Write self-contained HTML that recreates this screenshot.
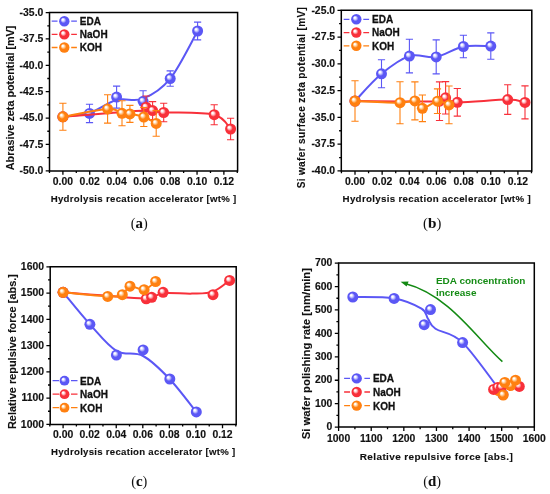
<!DOCTYPE html>
<html><head><meta charset="utf-8"><title>Figure</title>
<style>
html,body{margin:0;padding:0;background:#fff;}
svg{display:block;}
.t{font-family:'Liberation Sans', sans-serif;font-weight:bold;font-size:11.2px;fill:#111;stroke:#111;stroke-width:0.15px;}
.ti{font-family:'Liberation Sans', sans-serif;font-weight:bold;fill:#111;stroke:#111;stroke-width:0.1px;}
.lg{font-family:'Liberation Sans', sans-serif;font-weight:bold;font-size:10.9px;fill:#111;stroke:#111;stroke-width:0.3px;}
.sl{font-family:'Liberation Serif', serif;font-size:15.2px;fill:#111;stroke:#111;stroke-width:0.05px;}
.pp{font-size:14.6px;stroke-width:0;font-weight:normal;}
.gr{font-family:'Liberation Sans', sans-serif;font-weight:bold;font-size:9.1px;fill:#168c16;}
</style></head>
<body>
<svg width="550" height="494" viewBox="0 0 550 494">
<rect width="550" height="494" fill="#fff"/>
<defs><radialGradient id="gB" cx="0.5" cy="0.5" r="0.5" fx="0.33" fy="0.32"><stop offset="0" stop-color="#ffffff"/><stop offset="0.12" stop-color="#ffffff" stop-opacity="1"/><stop offset="0.3" stop-color="#c8c8ff"/><stop offset="0.55" stop-color="#5b57f5"/><stop offset="1" stop-color="#5b57f5"/></radialGradient><radialGradient id="gR" cx="0.5" cy="0.5" r="0.5" fx="0.33" fy="0.32"><stop offset="0" stop-color="#ffffff"/><stop offset="0.12" stop-color="#ffffff" stop-opacity="1"/><stop offset="0.3" stop-color="#ffc0c4"/><stop offset="0.55" stop-color="#f8303a"/><stop offset="1" stop-color="#f8303a"/></radialGradient><radialGradient id="gO" cx="0.5" cy="0.5" r="0.5" fx="0.33" fy="0.32"><stop offset="0" stop-color="#ffffff"/><stop offset="0.12" stop-color="#ffffff" stop-opacity="1"/><stop offset="0.3" stop-color="#ffd2a0"/><stop offset="0.55" stop-color="#ff8010"/><stop offset="1" stop-color="#ff8010"/></radialGradient></defs>
<path d="M62.9,116.8 C67.33,116.13 80.55,115.6 89.5,112.8 C98.45,110 107.68,102.37 116.6,100 C125.52,97.63 134.07,102.17 143,98.6 C151.93,95.03 161.1,89.87 170.2,78.6 C179.3,67.33 193.03,38.93 197.6,31" stroke="#5b57f5" stroke-width="2" fill="none"/>
<path d="M89.5,104.2V122.6M85.9,104.2H93.1M85.9,122.6H93.1" stroke="#5b57f5" stroke-width="1.1" fill="none"/>
<path d="M116.6,86.1V108.1M113,86.1H120.2M113,108.1H120.2" stroke="#5b57f5" stroke-width="1.1" fill="none"/>
<path d="M143.1,90.8V111.8M139.5,90.8H146.7M139.5,111.8H146.7" stroke="#5b57f5" stroke-width="1.1" fill="none"/>
<path d="M170.2,70.9V86.3M166.6,70.9H173.8M166.6,86.3H173.8" stroke="#5b57f5" stroke-width="1.1" fill="none"/>
<path d="M197.6,22.1V39.9M194,22.1H201.2M194,39.9H201.2" stroke="#5b57f5" stroke-width="1.1" fill="none"/>
<circle cx="62.9" cy="116.8" r="5.5" fill="url(#gB)"/>
<circle cx="89.5" cy="113.4" r="5.5" fill="url(#gB)"/>
<circle cx="116.6" cy="97.1" r="5.5" fill="url(#gB)"/>
<circle cx="143.1" cy="101.3" r="5.5" fill="url(#gB)"/>
<circle cx="170.2" cy="78.6" r="5.5" fill="url(#gB)"/>
<circle cx="197.6" cy="31" r="5.5" fill="url(#gB)"/>
<path d="M62.9,116.8 C69.75,116.27 90.15,114.63 104,113.6 C117.85,112.57 136,110.82 146,110.6 C156,110.38 152.63,111.62 164,112.3 C175.37,112.98 203.1,111.92 214.2,114.7 C225.3,117.48 227.87,126.62 230.6,129" stroke="#f8303a" stroke-width="2" fill="none"/>
<path d="M146.1,96V118.4M142.5,96H149.7M142.5,118.4H149.7" stroke="#f8303a" stroke-width="1.1" fill="none"/>
<path d="M152.6,101.6V119.6M149,101.6H156.2M149,119.6H156.2" stroke="#f8303a" stroke-width="1.1" fill="none"/>
<path d="M163.7,103.3V121.7M160.1,103.3H167.3M160.1,121.7H167.3" stroke="#f8303a" stroke-width="1.1" fill="none"/>
<path d="M214.2,104.7V124.7M210.6,104.7H217.8M210.6,124.7H217.8" stroke="#f8303a" stroke-width="1.1" fill="none"/>
<path d="M230.6,118.2V139.8M227,118.2H234.2M227,139.8H234.2" stroke="#f8303a" stroke-width="1.1" fill="none"/>
<circle cx="62.9" cy="116.8" r="5.5" fill="url(#gR)"/>
<circle cx="146.1" cy="107.2" r="5.5" fill="url(#gR)"/>
<circle cx="152.6" cy="110.6" r="5.5" fill="url(#gR)"/>
<circle cx="163.7" cy="112.5" r="5.5" fill="url(#gR)"/>
<circle cx="214.2" cy="114.7" r="5.5" fill="url(#gR)"/>
<circle cx="230.6" cy="129" r="5.5" fill="url(#gR)"/>
<path d="M62.9,116.8 C70.35,115.48 97.75,109.48 107.6,108.9 C117.45,108.32 118.28,112.47 122,113.3 C125.72,114.13 126.27,113.28 129.9,113.9 C133.53,114.52 139.42,115.42 143.8,117 C148.18,118.58 154.13,122.33 156.2,123.4" stroke="#ff8010" stroke-width="2" fill="none"/>
<path d="M62.9,103.3V130.3M59.3,103.3H66.5M59.3,130.3H66.5" stroke="#ff8010" stroke-width="1.1" fill="none"/>
<path d="M107.6,94.7V123.1M104,94.7H111.2M104,123.1H111.2" stroke="#ff8010" stroke-width="1.1" fill="none"/>
<path d="M122,100.8V125.8M118.4,100.8H125.6M118.4,125.8H125.6" stroke="#ff8010" stroke-width="1.1" fill="none"/>
<path d="M129.9,105.4V122.4M126.3,105.4H133.5M126.3,122.4H133.5" stroke="#ff8010" stroke-width="1.1" fill="none"/>
<path d="M143.8,107.5V126.5M140.2,107.5H147.4M140.2,126.5H147.4" stroke="#ff8010" stroke-width="1.1" fill="none"/>
<path d="M156.2,110.6V136.2M152.6,110.6H159.8M152.6,136.2H159.8" stroke="#ff8010" stroke-width="1.1" fill="none"/>
<circle cx="62.9" cy="116.8" r="5.5" fill="url(#gO)"/>
<circle cx="107.6" cy="108.9" r="5.5" fill="url(#gO)"/>
<circle cx="122" cy="113.3" r="5.5" fill="url(#gO)"/>
<circle cx="129.9" cy="113.9" r="5.5" fill="url(#gO)"/>
<circle cx="143.8" cy="117" r="5.5" fill="url(#gO)"/>
<circle cx="156.2" cy="123.4" r="5.5" fill="url(#gO)"/>
<path d="M49.5,12.6H237.6V170.9H49.5Z" stroke="#000" stroke-width="1.5" fill="none"/>
<path d="M45.7,12.6H49.5M45.7,38.97H49.5M45.7,65.34H49.5M45.7,91.71H49.5M45.7,118.08H49.5M45.7,144.45H49.5M45.7,170.82H49.5M47.3,25.79H49.5M47.3,52.16H49.5M47.3,78.52H49.5M47.3,104.89H49.5M47.3,131.27H49.5M47.3,157.63H49.5" stroke="#000" stroke-width="1.3"/>
<text transform="translate(43.3,15.8) scale(0.93,1)" text-anchor="end" class="t">-35.0</text>
<text transform="translate(43.3,42.17) scale(0.93,1)" text-anchor="end" class="t">-37.5</text>
<text transform="translate(43.3,68.54) scale(0.93,1)" text-anchor="end" class="t">-40.0</text>
<text transform="translate(43.3,94.91) scale(0.93,1)" text-anchor="end" class="t">-42.5</text>
<text transform="translate(43.3,121.28) scale(0.93,1)" text-anchor="end" class="t">-45.0</text>
<text transform="translate(43.3,147.65) scale(0.93,1)" text-anchor="end" class="t">-47.5</text>
<text transform="translate(43.3,174.02) scale(0.93,1)" text-anchor="end" class="t">-50.0</text>
<path d="M62.9,170.9V174.7M89.73,170.9V174.7M116.56,170.9V174.7M143.39,170.9V174.7M170.22,170.9V174.7M197.05,170.9V174.7M223.88,170.9V174.7M49.48,170.9V173.1M76.31,170.9V173.1M103.14,170.9V173.1M129.97,170.9V173.1M156.81,170.9V173.1M183.63,170.9V173.1M210.47,170.9V173.1M237.29,170.9V173.1" stroke="#000" stroke-width="1.3"/>
<text transform="translate(62.9,184.9) scale(0.93,1)" text-anchor="middle" class="t">0.00</text>
<text transform="translate(89.73,184.9) scale(0.93,1)" text-anchor="middle" class="t">0.02</text>
<text transform="translate(116.56,184.9) scale(0.93,1)" text-anchor="middle" class="t">0.04</text>
<text transform="translate(143.39,184.9) scale(0.93,1)" text-anchor="middle" class="t">0.06</text>
<text transform="translate(170.22,184.9) scale(0.93,1)" text-anchor="middle" class="t">0.08</text>
<text transform="translate(197.05,184.9) scale(0.93,1)" text-anchor="middle" class="t">0.10</text>
<text transform="translate(223.88,184.9) scale(0.93,1)" text-anchor="middle" class="t">0.12</text>
<path d="M51.7,21.2H57.5M71.2,21.2H76.9" stroke="#5b57f5" stroke-width="1.3"/>
<circle cx="64.3" cy="21.2" r="5.2" fill="url(#gB)"/>
<text transform="translate(79.8,25.1) scale(0.92,1)" class="lg">EDA</text>
<path d="M51.7,34.35H57.5M71.2,34.35H76.9" stroke="#f8303a" stroke-width="1.3"/>
<circle cx="64.3" cy="34.35" r="5.2" fill="url(#gR)"/>
<text transform="translate(79.8,38.25) scale(0.92,1)" class="lg">NaOH</text>
<path d="M51.7,47.5H57.5M71.2,47.5H76.9" stroke="#ff8010" stroke-width="1.3"/>
<circle cx="64.3" cy="47.5" r="5.2" fill="url(#gO)"/>
<text transform="translate(79.8,51.4) scale(0.92,1)" class="lg">KOH</text>
<text transform="translate(13.6,97.9) rotate(-90) scale(1.0,1)" text-anchor="middle" class="ti" style="font-size:10.8px;letter-spacing:0px">Abrasive zeta potential [mV]</text>
<text transform="translate(143.65,201.8) scale(1.06,1)" text-anchor="middle" class="ti" style="font-size:9.1px;letter-spacing:0.28585676631820434px">Hydrolysis recation accelerator [wt% ]</text>
<text transform="translate(139.2,228.3) scale(0.98,1)" text-anchor="middle" class="sl"><tspan class="pp">(</tspan><tspan font-weight="bold">a</tspan><tspan class="pp">)</tspan></text>
<path d="M355,101 C359.42,96.47 372.43,81.28 381.5,73.8 C390.57,66.32 400.28,58.92 409.4,56.1 C418.52,53.28 427.2,58.5 436.2,56.9 C445.2,55.3 454.3,48.3 463.4,46.5 C472.5,44.7 486.23,46.17 490.8,46.1" stroke="#5b57f5" stroke-width="2" fill="none"/>
<path d="M381.5,59.8V87.8M377.9,59.8H385.1M377.9,87.8H385.1" stroke="#5b57f5" stroke-width="1.1" fill="none"/>
<path d="M409.4,39.3V72.9M405.8,39.3H413M405.8,72.9H413" stroke="#5b57f5" stroke-width="1.1" fill="none"/>
<path d="M436.2,39.9V73.9M432.6,39.9H439.8M432.6,73.9H439.8" stroke="#5b57f5" stroke-width="1.1" fill="none"/>
<path d="M463.4,35.2V57.8M459.8,35.2H467M459.8,57.8H467" stroke="#5b57f5" stroke-width="1.1" fill="none"/>
<path d="M490.8,32.9V59.3M487.2,32.9H494.4M487.2,59.3H494.4" stroke="#5b57f5" stroke-width="1.1" fill="none"/>
<circle cx="355" cy="101" r="5.5" fill="url(#gB)"/>
<circle cx="381.5" cy="73.8" r="5.5" fill="url(#gB)"/>
<circle cx="409.4" cy="56.1" r="5.5" fill="url(#gB)"/>
<circle cx="436.2" cy="56.9" r="5.5" fill="url(#gB)"/>
<circle cx="463.4" cy="46.5" r="5.5" fill="url(#gB)"/>
<circle cx="490.8" cy="46.1" r="5.5" fill="url(#gB)"/>
<path d="M355,101 C369.08,101.03 424.4,101.73 439.5,101.2 C454.6,100.67 442.63,97.62 445.6,97.8 C448.57,97.98 446.95,102 457.3,102.3 C467.65,102.6 496.42,99.58 507.7,99.6 C518.98,99.62 522.12,101.93 525,102.4" stroke="#f8303a" stroke-width="2" fill="none"/>
<path d="M439.5,81.9V120.5M435.9,81.9H443.1M435.9,120.5H443.1" stroke="#f8303a" stroke-width="1.1" fill="none"/>
<path d="M445.6,81.6V114M442,81.6H449.2M442,114H449.2" stroke="#f8303a" stroke-width="1.1" fill="none"/>
<path d="M457.3,88.5V116.1M453.7,88.5H460.9M453.7,116.1H460.9" stroke="#f8303a" stroke-width="1.1" fill="none"/>
<path d="M507.7,84.8V114.4M504.1,84.8H511.3M504.1,114.4H511.3" stroke="#f8303a" stroke-width="1.1" fill="none"/>
<path d="M525,85.9V118.9M521.4,85.9H528.6M521.4,118.9H528.6" stroke="#f8303a" stroke-width="1.1" fill="none"/>
<circle cx="355" cy="101" r="5.5" fill="url(#gR)"/>
<circle cx="439.5" cy="101.2" r="5.5" fill="url(#gR)"/>
<circle cx="445.6" cy="97.8" r="5.5" fill="url(#gR)"/>
<circle cx="457.3" cy="102.3" r="5.5" fill="url(#gR)"/>
<circle cx="507.7" cy="99.6" r="5.5" fill="url(#gR)"/>
<circle cx="525" cy="102.4" r="5.5" fill="url(#gR)"/>
<path d="M355,101 C362.5,101.28 390.02,102.72 400,102.7 C409.98,102.68 411.17,99.97 414.9,100.9 C418.63,101.83 418.63,108.25 422.4,108.3 C426.17,108.35 433.07,101.77 437.5,101.2 C441.93,100.63 447.08,104.28 449,104.9" stroke="#ff8010" stroke-width="2" fill="none"/>
<path d="M355,80.8V121.2M351.4,80.8H358.6M351.4,121.2H358.6" stroke="#ff8010" stroke-width="1.1" fill="none"/>
<path d="M400,81.7V123.7M396.4,81.7H403.6M396.4,123.7H403.6" stroke="#ff8010" stroke-width="1.1" fill="none"/>
<path d="M414.9,81.9V119.9M411.3,81.9H418.5M411.3,119.9H418.5" stroke="#ff8010" stroke-width="1.1" fill="none"/>
<path d="M422.4,95V121.6M418.8,95H426M418.8,121.6H426" stroke="#ff8010" stroke-width="1.1" fill="none"/>
<path d="M437.5,88.9V113.5M433.9,88.9H441.1M433.9,113.5H441.1" stroke="#ff8010" stroke-width="1.1" fill="none"/>
<path d="M449,86V123.8M445.4,86H452.6M445.4,123.8H452.6" stroke="#ff8010" stroke-width="1.1" fill="none"/>
<circle cx="355" cy="101" r="5.5" fill="url(#gO)"/>
<circle cx="400" cy="102.7" r="5.5" fill="url(#gO)"/>
<circle cx="414.9" cy="100.9" r="5.5" fill="url(#gO)"/>
<circle cx="422.4" cy="108.3" r="5.5" fill="url(#gO)"/>
<circle cx="437.5" cy="101.2" r="5.5" fill="url(#gO)"/>
<circle cx="449" cy="104.9" r="5.5" fill="url(#gO)"/>
<path d="M341.3,10.3H531.8V171H341.3Z" stroke="#000" stroke-width="1.5" fill="none"/>
<path d="M337.5,10.3H341.3M337.5,37.07H341.3M337.5,63.84H341.3M337.5,90.61H341.3M337.5,117.38H341.3M337.5,144.15H341.3M337.5,170.92H341.3M339.1,23.69H341.3M339.1,50.45H341.3M339.1,77.22H341.3M339.1,104H341.3M339.1,130.77H341.3M339.1,157.54H341.3" stroke="#000" stroke-width="1.3"/>
<text transform="translate(335.1,13.5) scale(0.93,1)" text-anchor="end" class="t">-25.0</text>
<text transform="translate(335.1,40.27) scale(0.93,1)" text-anchor="end" class="t">-27.5</text>
<text transform="translate(335.1,67.04) scale(0.93,1)" text-anchor="end" class="t">-30.0</text>
<text transform="translate(335.1,93.81) scale(0.93,1)" text-anchor="end" class="t">-32.5</text>
<text transform="translate(335.1,120.58) scale(0.93,1)" text-anchor="end" class="t">-35.0</text>
<text transform="translate(335.1,147.35) scale(0.93,1)" text-anchor="end" class="t">-37.5</text>
<text transform="translate(335.1,174.12) scale(0.93,1)" text-anchor="end" class="t">-40.0</text>
<path d="M355,171V174.8M382.15,171V174.8M409.3,171V174.8M436.45,171V174.8M463.6,171V174.8M490.75,171V174.8M517.9,171V174.8M341.43,171V173.2M368.57,171V173.2M395.73,171V173.2M422.88,171V173.2M450.02,171V173.2M477.18,171V173.2M504.32,171V173.2M531.48,171V173.2" stroke="#000" stroke-width="1.3"/>
<text transform="translate(355,185) scale(0.93,1)" text-anchor="middle" class="t">0.00</text>
<text transform="translate(382.15,185) scale(0.93,1)" text-anchor="middle" class="t">0.02</text>
<text transform="translate(409.3,185) scale(0.93,1)" text-anchor="middle" class="t">0.04</text>
<text transform="translate(436.45,185) scale(0.93,1)" text-anchor="middle" class="t">0.06</text>
<text transform="translate(463.6,185) scale(0.93,1)" text-anchor="middle" class="t">0.08</text>
<text transform="translate(490.75,185) scale(0.93,1)" text-anchor="middle" class="t">0.10</text>
<text transform="translate(517.9,185) scale(0.93,1)" text-anchor="middle" class="t">0.12</text>
<path d="M343.7,19.3H349.4M363.3,19.3H369.1" stroke="#5b57f5" stroke-width="1.3"/>
<circle cx="356.3" cy="19.3" r="5.2" fill="url(#gB)"/>
<text transform="translate(372,23.2) scale(0.92,1)" class="lg">EDA</text>
<path d="M343.7,32.55H349.4M363.3,32.55H369.1" stroke="#f8303a" stroke-width="1.3"/>
<circle cx="356.3" cy="32.55" r="5.2" fill="url(#gR)"/>
<text transform="translate(372,36.45) scale(0.92,1)" class="lg">NaOH</text>
<path d="M343.7,45.8H349.4M363.3,45.8H369.1" stroke="#ff8010" stroke-width="1.3"/>
<circle cx="356.3" cy="45.8" r="5.2" fill="url(#gO)"/>
<text transform="translate(372,49.7) scale(0.92,1)" class="lg">KOH</text>
<text transform="translate(305.3,97.6) rotate(-90) scale(0.93,1)" text-anchor="middle" class="ti" style="font-size:10.8px;letter-spacing:0.38px">Si wafer surface zeta potential [mV]</text>
<text transform="translate(436.76,202) scale(1.07,1)" text-anchor="middle" class="ti" style="font-size:9.1px;letter-spacing:0.30400764950113596px">Hydrolysis recation accelerator [wt% ]</text>
<text transform="translate(432.2,228.3) scale(1.0,1)" text-anchor="middle" class="sl"><tspan class="pp">(</tspan><tspan font-weight="bold">b</tspan><tspan class="pp">)</tspan></text>
<path d="M63.1,292.3 C67.57,297.63 81.02,314.55 89.9,324.3 C98.78,334.05 107.53,345.52 116.4,350.8 C125.27,356.08 134.2,351.27 143.1,356 C152,360.73 160.93,369.88 169.8,379.2 C178.67,388.52 191.88,406.45 196.3,411.9" stroke="#5b57f5" stroke-width="2" fill="none"/>
<circle cx="63.1" cy="292.3" r="5.5" fill="url(#gB)"/>
<circle cx="89.9" cy="324.3" r="5.5" fill="url(#gB)"/>
<circle cx="116.4" cy="355.1" r="5.5" fill="url(#gB)"/>
<circle cx="143.1" cy="349.9" r="5.5" fill="url(#gB)"/>
<circle cx="169.8" cy="379" r="5.5" fill="url(#gB)"/>
<circle cx="196.3" cy="411.9" r="5.5" fill="url(#gB)"/>
<path d="M63.1,292.3 C70.08,292.85 91.15,294.58 105,295.6 C118.85,296.62 136.52,298.8 146.2,298.4 C155.88,298 155.47,294 163.1,293.2 C170.73,292.4 183.68,293.87 192,293.6 C200.32,293.33 206.73,293.8 213,291.6 C219.27,289.4 226.83,282.27 229.6,280.4" stroke="#f8303a" stroke-width="2" fill="none"/>
<circle cx="63.1" cy="292.3" r="5.5" fill="url(#gR)"/>
<circle cx="146.2" cy="298.8" r="5.5" fill="url(#gR)"/>
<circle cx="151.7" cy="297.3" r="5.5" fill="url(#gR)"/>
<circle cx="163.1" cy="292.3" r="5.5" fill="url(#gR)"/>
<circle cx="213" cy="294.7" r="5.5" fill="url(#gR)"/>
<circle cx="229.6" cy="280.4" r="5.5" fill="url(#gR)"/>
<path d="M63.1,292.3 C70.53,292.98 97.83,296 107.7,296.4 C117.57,296.8 118.58,296.4 122.3,294.7 C126.02,293 126.37,287.03 130,286.2 C133.63,285.37 139.83,290.48 144.1,289.7 C148.37,288.92 153.68,282.87 155.6,281.5" stroke="#ff8010" stroke-width="2" fill="none"/>
<circle cx="63.1" cy="292.3" r="5.5" fill="url(#gO)"/>
<circle cx="107.7" cy="296.4" r="5.5" fill="url(#gO)"/>
<circle cx="122.3" cy="294.7" r="5.5" fill="url(#gO)"/>
<circle cx="130" cy="286.2" r="5.5" fill="url(#gO)"/>
<circle cx="144.1" cy="289.7" r="5.5" fill="url(#gO)"/>
<circle cx="155.6" cy="281.5" r="5.5" fill="url(#gO)"/>
<path d="M50.2,266.8H236.2V424.4H50.2Z" stroke="#000" stroke-width="1.5" fill="none"/>
<path d="M46.4,266.8H50.2M46.4,293.07H50.2M46.4,319.33H50.2M46.4,345.6H50.2M46.4,371.87H50.2M46.4,398.13H50.2M46.4,424.4H50.2M48,279.93H50.2M48,306.2H50.2M48,332.47H50.2M48,358.73H50.2M48,385H50.2M48,411.27H50.2" stroke="#000" stroke-width="1.3"/>
<text transform="translate(44,270) scale(0.93,1)" text-anchor="end" class="t">1600</text>
<text transform="translate(44,296.27) scale(0.93,1)" text-anchor="end" class="t">1500</text>
<text transform="translate(44,322.53) scale(0.93,1)" text-anchor="end" class="t">1400</text>
<text transform="translate(44,348.8) scale(0.93,1)" text-anchor="end" class="t">1300</text>
<text transform="translate(44,375.07) scale(0.93,1)" text-anchor="end" class="t">1200</text>
<text transform="translate(44,401.33) scale(0.93,1)" text-anchor="end" class="t">1100</text>
<text transform="translate(44,427.6) scale(0.93,1)" text-anchor="end" class="t">1000</text>
<path d="M63.1,424.4V428.2M89.67,424.4V428.2M116.24,424.4V428.2M142.81,424.4V428.2M169.38,424.4V428.2M195.95,424.4V428.2M222.52,424.4V428.2M49.81,424.4V426.6M76.39,424.4V426.6M102.96,424.4V426.6M129.52,424.4V426.6M156.1,424.4V426.6M182.66,424.4V426.6M209.23,424.4V426.6M235.81,424.4V426.6" stroke="#000" stroke-width="1.3"/>
<text transform="translate(63.1,438.4) scale(0.93,1)" text-anchor="middle" class="t">0.00</text>
<text transform="translate(89.67,438.4) scale(0.93,1)" text-anchor="middle" class="t">0.02</text>
<text transform="translate(116.24,438.4) scale(0.93,1)" text-anchor="middle" class="t">0.04</text>
<text transform="translate(142.81,438.4) scale(0.93,1)" text-anchor="middle" class="t">0.06</text>
<text transform="translate(169.38,438.4) scale(0.93,1)" text-anchor="middle" class="t">0.08</text>
<text transform="translate(195.95,438.4) scale(0.93,1)" text-anchor="middle" class="t">0.10</text>
<text transform="translate(222.52,438.4) scale(0.93,1)" text-anchor="middle" class="t">0.12</text>
<path d="M52.6,380.7H59M71,380.7H77.5" stroke="#5b57f5" stroke-width="1.3"/>
<circle cx="64.5" cy="380.7" r="4.9" fill="url(#gB)"/>
<text transform="translate(80.1,384.6) scale(0.92,1)" class="lg">EDA</text>
<path d="M52.6,394.2H59M71,394.2H77.5" stroke="#f8303a" stroke-width="1.3"/>
<circle cx="64.5" cy="394.2" r="4.9" fill="url(#gR)"/>
<text transform="translate(80.1,398.1) scale(0.92,1)" class="lg">NaOH</text>
<path d="M52.6,407.7H59M71,407.7H77.5" stroke="#ff8010" stroke-width="1.3"/>
<circle cx="64.5" cy="407.7" r="4.9" fill="url(#gO)"/>
<text transform="translate(80.1,411.6) scale(0.92,1)" class="lg">KOH</text>
<text transform="translate(15.5,351.6) rotate(-90) scale(1.0,1)" text-anchor="middle" class="ti" style="font-size:10.95px;letter-spacing:0px">Relative repulsive  force [abs.]</text>
<text transform="translate(143.23,454.7) scale(1.03,1)" text-anchor="middle" class="ti" style="font-size:9.35px;letter-spacing:0.2578139522107054px">Hydrolysis recation accelerator [wt% ]</text>
<text transform="translate(139.2,486) scale(0.98,1)" text-anchor="middle" class="sl"><tspan class="pp">(</tspan><tspan font-weight="bold">c</tspan><tspan class="pp">)</tspan></text>
<path d="M352.8,297 C359.68,297.23 382.65,296.47 394.1,298.4 C405.55,300.33 415.85,305.2 421.5,308.6 C427.15,312 425.67,315.43 428,318.8 C430.33,322.17 429.73,324.83 435.5,328.8 C441.27,332.77 451.37,331.65 462.6,342.6 C473.83,353.55 496.18,385.85 502.9,394.5" stroke="#5b57f5" stroke-width="2" fill="none"/>
<circle cx="352.8" cy="297" r="5.5" fill="url(#gB)"/>
<circle cx="394.1" cy="298.4" r="5.5" fill="url(#gB)"/>
<circle cx="430.5" cy="309.6" r="5.5" fill="url(#gB)"/>
<circle cx="424.2" cy="324.7" r="5.5" fill="url(#gB)"/>
<circle cx="462.6" cy="342.6" r="5.5" fill="url(#gB)"/>
<circle cx="502.9" cy="394.5" r="5.5" fill="url(#gB)"/>
<circle cx="498.5" cy="390.5" r="5.5" fill="url(#gO)"/>
<circle cx="500" cy="388.8" r="5.5" fill="url(#gO)"/>
<circle cx="493.6" cy="389.4" r="5.5" fill="url(#gR)"/>
<circle cx="497.8" cy="387.4" r="5.5" fill="url(#gR)"/>
<circle cx="501.5" cy="387.2" r="5.5" fill="url(#gR)"/>
<circle cx="519.3" cy="386.4" r="5.5" fill="url(#gR)"/>
<circle cx="503.2" cy="395" r="5.5" fill="url(#gO)"/>
<circle cx="510.5" cy="385.5" r="5.5" fill="url(#gO)"/>
<circle cx="504.8" cy="382.4" r="5.5" fill="url(#gO)"/>
<circle cx="515.5" cy="380.2" r="5.5" fill="url(#gO)"/>
<path d="M502.4,361.6 C477.4,339.6 449.3,294.8 405,283.5" stroke="#138a13" stroke-width="1.5" fill="none"/>
<path d="M400.6,281.8 L408.6,281.5 L406.6,286.4 Z" fill="#138a13"/>
<text transform="translate(435.9,284.3) scale(1.1,1)" class="gr">EDA concentration</text>
<text transform="translate(435.9,295.6) scale(1.1,1)" class="gr">increase</text>
<path d="M338.6,263.1H534.3V427.1H338.6Z" stroke="#000" stroke-width="1.5" fill="none"/>
<path d="M334.8,263.1H338.6M334.8,286.53H338.6M334.8,309.96H338.6M334.8,333.39H338.6M334.8,356.81H338.6M334.8,380.24H338.6M334.8,403.67H338.6M334.8,427.1H338.6M336.4,274.81H338.6M336.4,298.24H338.6M336.4,321.67H338.6M336.4,345.1H338.6M336.4,368.53H338.6M336.4,391.96H338.6M336.4,415.39H338.6" stroke="#000" stroke-width="1.3"/>
<text transform="translate(332.4,266.3) scale(0.93,1)" text-anchor="end" class="t">700</text>
<text transform="translate(332.4,289.73) scale(0.93,1)" text-anchor="end" class="t">600</text>
<text transform="translate(332.4,313.16) scale(0.93,1)" text-anchor="end" class="t">500</text>
<text transform="translate(332.4,336.59) scale(0.93,1)" text-anchor="end" class="t">400</text>
<text transform="translate(332.4,360.01) scale(0.93,1)" text-anchor="end" class="t">300</text>
<text transform="translate(332.4,383.44) scale(0.93,1)" text-anchor="end" class="t">200</text>
<text transform="translate(332.4,406.87) scale(0.93,1)" text-anchor="end" class="t">100</text>
<text transform="translate(332.4,430.3) scale(0.93,1)" text-anchor="end" class="t">0</text>
<path d="M338.6,427.1V430.9M371.22,427.1V430.9M403.83,427.1V430.9M436.45,427.1V430.9M469.07,427.1V430.9M501.68,427.1V430.9M534.3,427.1V430.9M354.91,427.1V429.3M387.52,427.1V429.3M420.14,427.1V429.3M452.76,427.1V429.3M485.38,427.1V429.3M517.99,427.1V429.3" stroke="#000" stroke-width="1.3"/>
<text transform="translate(338.6,441.7) scale(0.93,1)" text-anchor="middle" class="t">1000</text>
<text transform="translate(371.22,441.7) scale(0.93,1)" text-anchor="middle" class="t">1100</text>
<text transform="translate(403.83,441.7) scale(0.93,1)" text-anchor="middle" class="t">1200</text>
<text transform="translate(436.45,441.7) scale(0.93,1)" text-anchor="middle" class="t">1300</text>
<text transform="translate(469.07,441.7) scale(0.93,1)" text-anchor="middle" class="t">1400</text>
<text transform="translate(501.68,441.7) scale(0.93,1)" text-anchor="middle" class="t">1500</text>
<text transform="translate(534.3,441.7) scale(0.93,1)" text-anchor="middle" class="t">1600</text>
<path d="M344.1,378.4H350M364.4,378.4H370" stroke="#5b57f5" stroke-width="1.3"/>
<circle cx="356.7" cy="378.4" r="5.2" fill="url(#gB)"/>
<text transform="translate(372.9,382.3) scale(0.92,1)" class="lg">EDA</text>
<path d="M344.1,392H350M364.4,392H370" stroke="#f8303a" stroke-width="1.3"/>
<circle cx="356.7" cy="392" r="5.2" fill="url(#gR)"/>
<text transform="translate(372.9,395.9) scale(0.92,1)" class="lg">NaOH</text>
<path d="M344.1,405.6H350M364.4,405.6H370" stroke="#ff8010" stroke-width="1.3"/>
<circle cx="356.7" cy="405.6" r="5.2" fill="url(#gO)"/>
<text transform="translate(372.9,409.5) scale(0.92,1)" class="lg">KOH</text>
<text transform="translate(310.3,353.7) rotate(-90) scale(1.0,1)" text-anchor="middle" class="ti" style="font-size:11.3px;letter-spacing:0px">Si wafer polishing rate [nm/min]</text>
<text transform="translate(436.43,459.6) scale(1.08,1)" text-anchor="middle" class="ti" style="font-size:9.3px;letter-spacing:0.33764668981481427px">Relative repulsive force [abs.]</text>
<text transform="translate(432.2,486.4) scale(0.98,1)" text-anchor="middle" class="sl"><tspan class="pp">(</tspan><tspan font-weight="bold">d</tspan><tspan class="pp">)</tspan></text>
</svg>
</body></html>
